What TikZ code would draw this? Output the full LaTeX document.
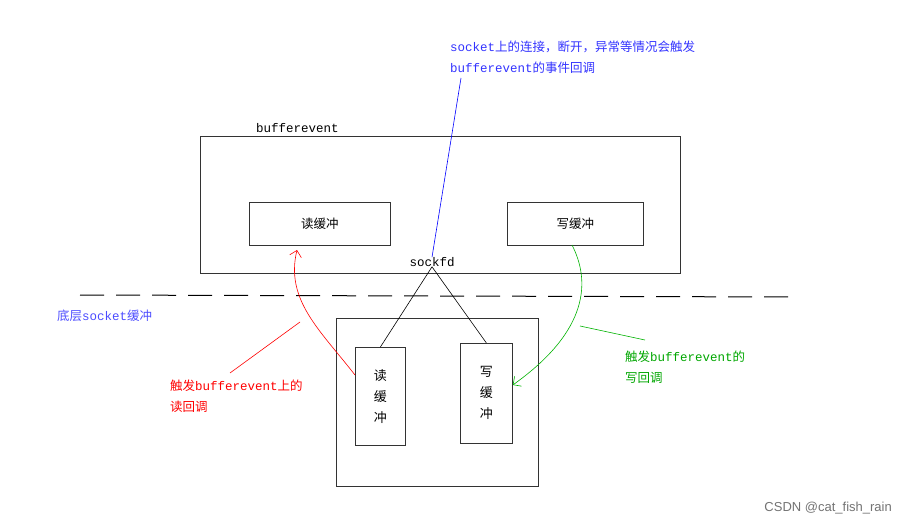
\documentclass[tikz,border=0pt]{standalone}
\usepackage{fontspec}
\setmainfont{Noto Sans CJK SC}
\newfontfamily\wm{Liberation Sans}
\newfontfamily\lm{Liberation Mono}
\newcommand{\lat}[1]{{\lm #1}}
\usetikzlibrary{arrows.meta}
\begin{document}
\begin{tikzpicture}[x=1pt,y=-1pt,
 box/.style={draw=black!80,line width=0.8pt},
 txt/.style={font=\fontsize{12.5}{21}\selectfont,inner sep=0pt,anchor=west},
 con/.style={line width=0.6pt}]
\useasboundingbox (0,0) rectangle (907,527);
\node[box,minimum width=480,minimum height=137,anchor=north west] (buf) at (200,136) {};
\node[txt,anchor=south west] (buflbl) at (256,133) {\lat{bufferevent}};
\node[box,minimum width=141,minimum height=43,anchor=north west] (rb) at (249,202) {};
\node[txt,anchor=center] at (rb) {读缓冲};
\node[box,minimum width=136,minimum height=43,anchor=north west] (wb) at (507,202) {};
\node[txt,anchor=center] at (wb) {写缓冲};
\node[txt,anchor=center] (sock) at (432,262) {\lat{sockfd}};
\draw[dash pattern=on 24pt off 12pt,line width=1pt] (80,295) -- (795,297);
\node[txt,text=blue!70] (low) at (57,316) {底层\lat{socket}缓冲};
\node[box,minimum width=202,minimum height=168,anchor=north west] (lb) at (336,318) {};
\node[box,minimum width=50,minimum height=98,anchor=north west,align=center,font=\fontsize{13}{21}\selectfont] (ir) at (355,347) {读\\缓\\冲};
\node[box,minimum width=52,minimum height=100,anchor=north west,align=center,font=\fontsize{13}{21}\selectfont] (iw) at (460,343) {写\\缓\\冲};
\draw[con] (sock.south) -- (ir.north);
\draw[con] (sock.south) -- (iw.north);
\node[txt,text=blue!80,align=left] (top) at (450,57) {\lat{socket}上的连接，断开，异常等情况会触发\\\lat{bufferevent}的事件回调};
\coordinate (tb) at (461,78);
\draw[con,blue] (tb) -- (sock.north);
\draw[con,red,-{Straight Barb[length=6pt]}] (ir.west|-0,375) .. controls (320,330) and (285,300) .. (297,250);
\coordinate (r1) at (300,322); \coordinate (r2) at (230,373);
\draw[con,red] (r1) -- (r2);
\node[txt,text=red,align=left] (rt) at (170,396) {触发\lat{bufferevent}上的\\读回调};
\draw[con,green!70!black,-{Straight Barb[length=6pt]}] (572,245) .. controls (590,280) and (590,330) .. (iw.east|-0,385);
\coordinate (g1) at (580,326); \coordinate (g2) at (645,340);
\draw[con,green!70!black] (g1) -- (g2);
\node[txt,text=green!65!black,align=left] (gt) at (625,367) {触发\lat{bufferevent}的\\写回调};
\node[anchor=east,inner sep=0pt,text=black!55,font=\wm\fontsize{13}{15}\selectfont] (wmk) at (892,508) {CSDN @cat\_fish\_rain};
\end{tikzpicture}
\end{document}
